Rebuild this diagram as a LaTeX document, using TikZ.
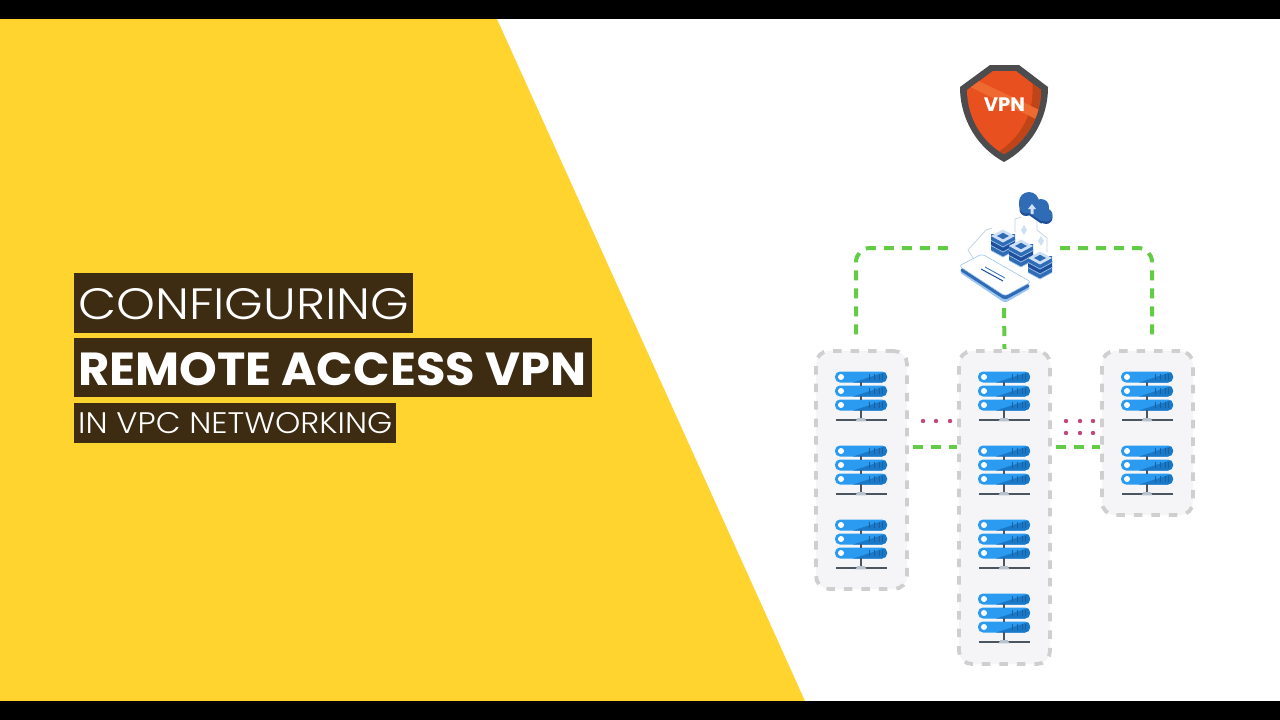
\documentclass[tikz,border=0pt]{standalone}
\usepackage{fontspec}
\usepackage{graphicx}
\setmainfont{Poppins}
\newfontfamily\plight{Poppins Light}
\usetikzlibrary{calc}
\definecolor{sunyellow}{HTML}{FFD42E}
\definecolor{titlebg}{HTML}{3D2B12}
\definecolor{pillblue}{HTML}{2A9BF0}
\definecolor{pilldark}{HTML}{1A78C8}
\definecolor{slotdark}{HTML}{1C5F9E}
\definecolor{standgray}{HTML}{4A5560}
\definecolor{boxfill}{HTML}{F5F5F7}
\definecolor{boxdash}{HTML}{CFCFCF}
\definecolor{linkgreen}{HTML}{63CC45}
\definecolor{dotpink}{HTML}{C2487F}
\definecolor{shieldrim}{HTML}{4C4C4E}
\definecolor{shieldorange}{HTML}{E8501F}
\definecolor{shielddark}{HTML}{BF4418}
\definecolor{shieldlight}{HTML}{EE6A30}
\definecolor{isoblue}{HTML}{2F6CB5}
\definecolor{isodark}{HTML}{1F4F9A}
\definecolor{isolight}{HTML}{CFE0F5}
\definecolor{isopale}{HTML}{9CC4F0}
\definecolor{isoline}{HTML}{C5D3E3}
\tikzset{
  x=1pt,y=-1pt,
  titlebar/.style={fill=titlebg,draw=none},
  titletext/.style={text=white,inner sep=0pt,anchor=north west},
  vpcbox/.style={draw=boxdash,fill=boxfill,line width=3.8pt,rounded corners=13pt,dash pattern=on 8.5pt off 9pt,minimum width=91pt,inner sep=0pt},
  greenlink/.style={draw=linkgreen,line width=4pt,dash pattern=on 10pt off 8pt},
  pinkdot/.style={fill=dotpink,draw=none},
  hubnode/.style={inner sep=0pt,minimum width=112pt,minimum height=120pt},
  server/.pic={
    \foreach \yy in {0,14,28}{
      \fill[pillblue,rounded corners=5pt] (-26,\yy-.5) rectangle (26,\yy+10.5);
      \begin{scope}
        \clip[rounded corners=5pt] (-26,\yy-.5) rectangle (26,\yy+10.5);
        \fill[pilldark] (-8,\yy+10.5) -- (26,\yy-.5) -- (26,\yy+10.5) -- cycle;
      \end{scope}
      \fill[white] (-20,\yy+5) circle (3);
      \foreach \sx in {8,13,18,21}{\fill[slotdark] (\sx,\yy+2) rectangle (\sx+1.3,\yy+8);}
    }
    \fill[standgray] (-1,10) rectangle (1,14);
    \fill[standgray] (-1,24) rectangle (1,28);
    \fill[standgray] (-1,38) rectangle (1,47);
    \fill[standgray] (-25.5,47) rectangle (25.5,49);
    \fill[isoline!80!gray] (-5.5,49.3) -- (-3.5,46) -- (3.5,46) -- (5.5,49.3) -- cycle;
  },
  isostack/.pic={
    \foreach \yy/\cc in {14.5/isoblue,9.5/isodark,4.5/isoblue}{
      \fill[\cc] (-12,\yy) -- (0,\yy+6.5) -- (12,\yy) -- (12,\yy-6.5) -- (-12,\yy-6.5) -- cycle;
      \draw[isopale,line width=.7pt] (-12,\yy) -- (0,\yy+6.5) -- (12,\yy);
    }
    \fill[isolight] (-12,0) -- (0,-6.5) -- (12,0) -- (0,6.5) -- cycle;
    \fill[isoblue] (-6,0) -- (0,-3.2) -- (6,0) -- (0,3.2) -- cycle;
  }
}
\begin{document}
\begin{tikzpicture}
\useasboundingbox (0,0) rectangle (1280,720);
\fill[white] (0,0) rectangle (1280,720);
\fill[sunyellow] (0,19) -- (497,19) -- (805,701) -- (0,701) -- cycle;
\fill[black] (0,0) rectangle (1280,19);
\fill[black] (0,701) rectangle (1280,720);
% title
\fill[titlebar] (74,273) rectangle (413,333);
\fill[titlebar] (74,338) rectangle (592,397);
\fill[titlebar] (74,403) rectangle (396,443);
\node[titletext] (title1) at (78,288) {\resizebox{331pt}{31pt}{\plight CONFIGURING}};
\node[titletext] (title2) at (78,352) {\resizebox{508pt}{33pt}{\bfseries REMOTE ACCESS VPN}};
\node[titletext] (title3) at (78,412) {\resizebox{314pt}{21pt}{\plight IN VPC NETWORKING}};
% shield
\fill[shieldrim] (990,65) -- (1019,65) -- (1048,87) .. controls (1048,120) and (1030,148) .. (1004,162) .. controls (978,148) and (960,120) .. (960,87) -- cycle;
\begin{scope}
  \clip (993,71) -- (1016,71) -- (1041,90) .. controls (1041,118) and (1025,143) .. (1004,154) .. controls (983,143) and (967,118) .. (967,90) -- cycle;
  \fill[shieldorange] (950,60) rectangle (1060,165);
  \fill[shielddark] (1032,80) .. controls (1036,110) and (1022,137) .. (998,152) -- (1010,165) -- (1060,130) -- (1060,80) -- cycle;
  \fill[shieldlight] (962,83) -- (970,77) -- (1050,115) -- (1046,124) -- cycle;
\end{scope}
\node[text=white,inner sep=0pt] (vpn) at (1004.5,105) {\fontsize{19.5}{19.5}\selectfont\bfseries VPN};
% hub illustration
\node[hubnode] (hub) at (1004,248) {};
\draw[isoline,line width=.8pt] (992,228) -- (986,230) -- (968,250) -- (973,258);
\draw[isoline,line width=.8pt] (1021,217) -- (1015,219) -- (1015,232);
\draw[isoline,line width=.8pt] (1037,218) -- (1037,230) -- (1047,238) -- (1047,252);
\fill[isolight] (1024,225) -- (1027,230) -- (1024,235) -- (1021,230) -- cycle;
\fill[isolight] (1041,236) -- (1044,241) -- (1041,246) -- (1038,241) -- cycle;
% cloud
\begin{scope}[yshift=-2.5pt]
  \fill[isodark] (1029,202) circle (10) (1041,207) circle (8) (1046,215) circle (6.5) (1026,207) circle (6.5);
  \fill[isodark] (1021,207) -- (1034,198) -- (1050,218) -- (1041,221) -- cycle;
\end{scope}
\fill[isoblue] (1029,202) circle (10) (1041,207) circle (8) (1046,215) circle (6.5) (1026,207) circle (6.5);
\fill[isoblue] (1021,207) -- (1034,198) -- (1050,218) -- (1041,221) -- cycle;
\fill[isolight] (1032,204) -- (1036,209) -- (1033.5,209) -- (1033.5,214) -- (1030.5,214) -- (1030.5,209) -- (1028,209) -- cycle;
% stacks
\pic at (1003,236) {isostack};
\pic at (1021,246) {isostack};
\pic at (1040,258) {isostack};
% panel
\fill[isopale,rounded corners=3pt] (959,272) -- (982,260) -- (1031,288) -- (1005,303) -- cycle;
\fill[isoblue,rounded corners=3pt] (959,270) -- (982,258) -- (1031,286) -- (1005,300) -- cycle;
\fill[white,rounded corners=3pt] (959,266) -- (982,254) -- (1031,282) -- (1005,296) -- cycle;
\draw[isopale,line width=.6pt,rounded corners=3pt] (959,266) -- (982,254) -- (1031,282) -- (1005,296) -- cycle;
\draw[isodark,line width=1pt] (981,269) -- (1003,281);
\draw[isoblue,line width=.8pt] (985,267) -- (1005,278);
% VPC boxes
\node[vpcbox,minimum height=238pt] (boxL) at (861.5,470) {};
\node[vpcbox,minimum height=313pt] (boxM) at (1004.5,507.5) {};
\node[vpcbox,minimum height=164pt] (boxR) at (1147.5,433) {};
% servers
\foreach \py in {372,446,520} \pic at (861,\py) {server};
\foreach \py in {372,446,520,594} \pic at (1004,\py) {server};
\foreach \py in {372,446} \pic at (1147,\py) {server};
% links
\coordinate (linkL) at (856,342);
\coordinate (linkR) at (1152,342);
\coordinate (lvl) at (0,447);
\draw[greenlink,rounded corners=14pt] (hub.west) -| (linkL);
\draw[greenlink,rounded corners=14pt] (hub.east) -| (linkR);
\draw[greenlink] (hub.south) -- (boxM.north);
\draw[greenlink,shorten <=4pt] (boxL.east |- lvl) -- (boxM.west |- lvl);
\draw[greenlink,shorten <=4pt] (boxM.east |- lvl) -- (boxR.west |- lvl);
% dots
\foreach \dx in {923,936,950} \fill[pinkdot] (\dx,421) circle (2.2);
\foreach \dx in {1066,1080,1093} {\fill[pinkdot] (\dx,421) circle (2.2); \fill[pinkdot] (\dx,433) circle (2.2);}
\end{tikzpicture}
\end{document}
